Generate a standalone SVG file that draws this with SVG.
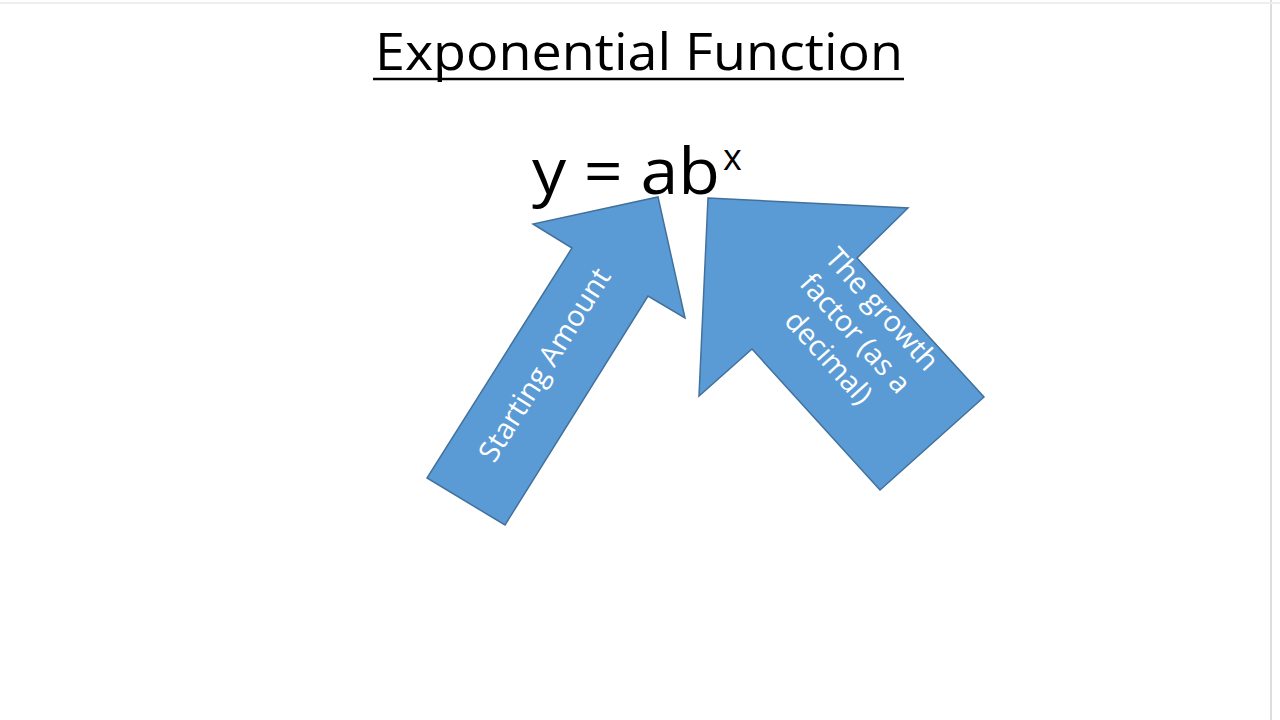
<svg xmlns="http://www.w3.org/2000/svg" width="1280" height="720" viewBox="0 0 1280 720">
<style>
.arrow{fill:#5B9BD5;stroke:#41719C;stroke-width:1.5}
.lbl{font-family:"Open Sans","Liberation Sans",sans-serif;font-size:29px;fill:#fff;text-anchor:middle}
</style>
<rect width="1280" height="720" fill="#fff"/>
<line x1="1271" y1="0" x2="1271" y2="720" stroke="#ddd" stroke-width="2"/>
<line x1="0" y1="3" x2="1280" y2="3" stroke="#eee" stroke-width="2"/>
<g id="title">
<text x="639" y="70" font-family="Open Sans,Liberation Sans,sans-serif" font-size="52" text-anchor="middle" textLength="528" lengthAdjust="spacingAndGlyphs">Exponential Function</text>
<line x1="373" y1="79" x2="904" y2="79" stroke="#000" stroke-width="2.5"/>
</g>
<g id="equation">
<text x="532" y="194" font-family="Open Sans,Liberation Sans,sans-serif" font-size="64" textLength="188" lengthAdjust="spacingAndGlyphs">y = ab</text>
<text x="723" y="170" font-family="Open Sans,Liberation Sans,sans-serif" font-size="36">x</text>
</g>
<g id="connectors">
<g id="arrow-a">
<polygon class="arrow" points="658,197 685,318 648,296 505,525 427,478 572,248 533,224"/>
<text class="lbl" transform="translate(553,370) rotate(-58)">Starting Amount</text>
</g>
<g id="arrow-b">
<polygon class="arrow" points="708,198 908,208 857,258 984,397 880,490 752,349 699,396"/>
<text class="lbl" transform="translate(848,340) rotate(48)"><tspan x="0" y="-36">The growth</tspan><tspan x="0" y="0">factor (as a</tspan><tspan x="0" y="36">decimal)</tspan></text>
</g>
</g>
</svg>
